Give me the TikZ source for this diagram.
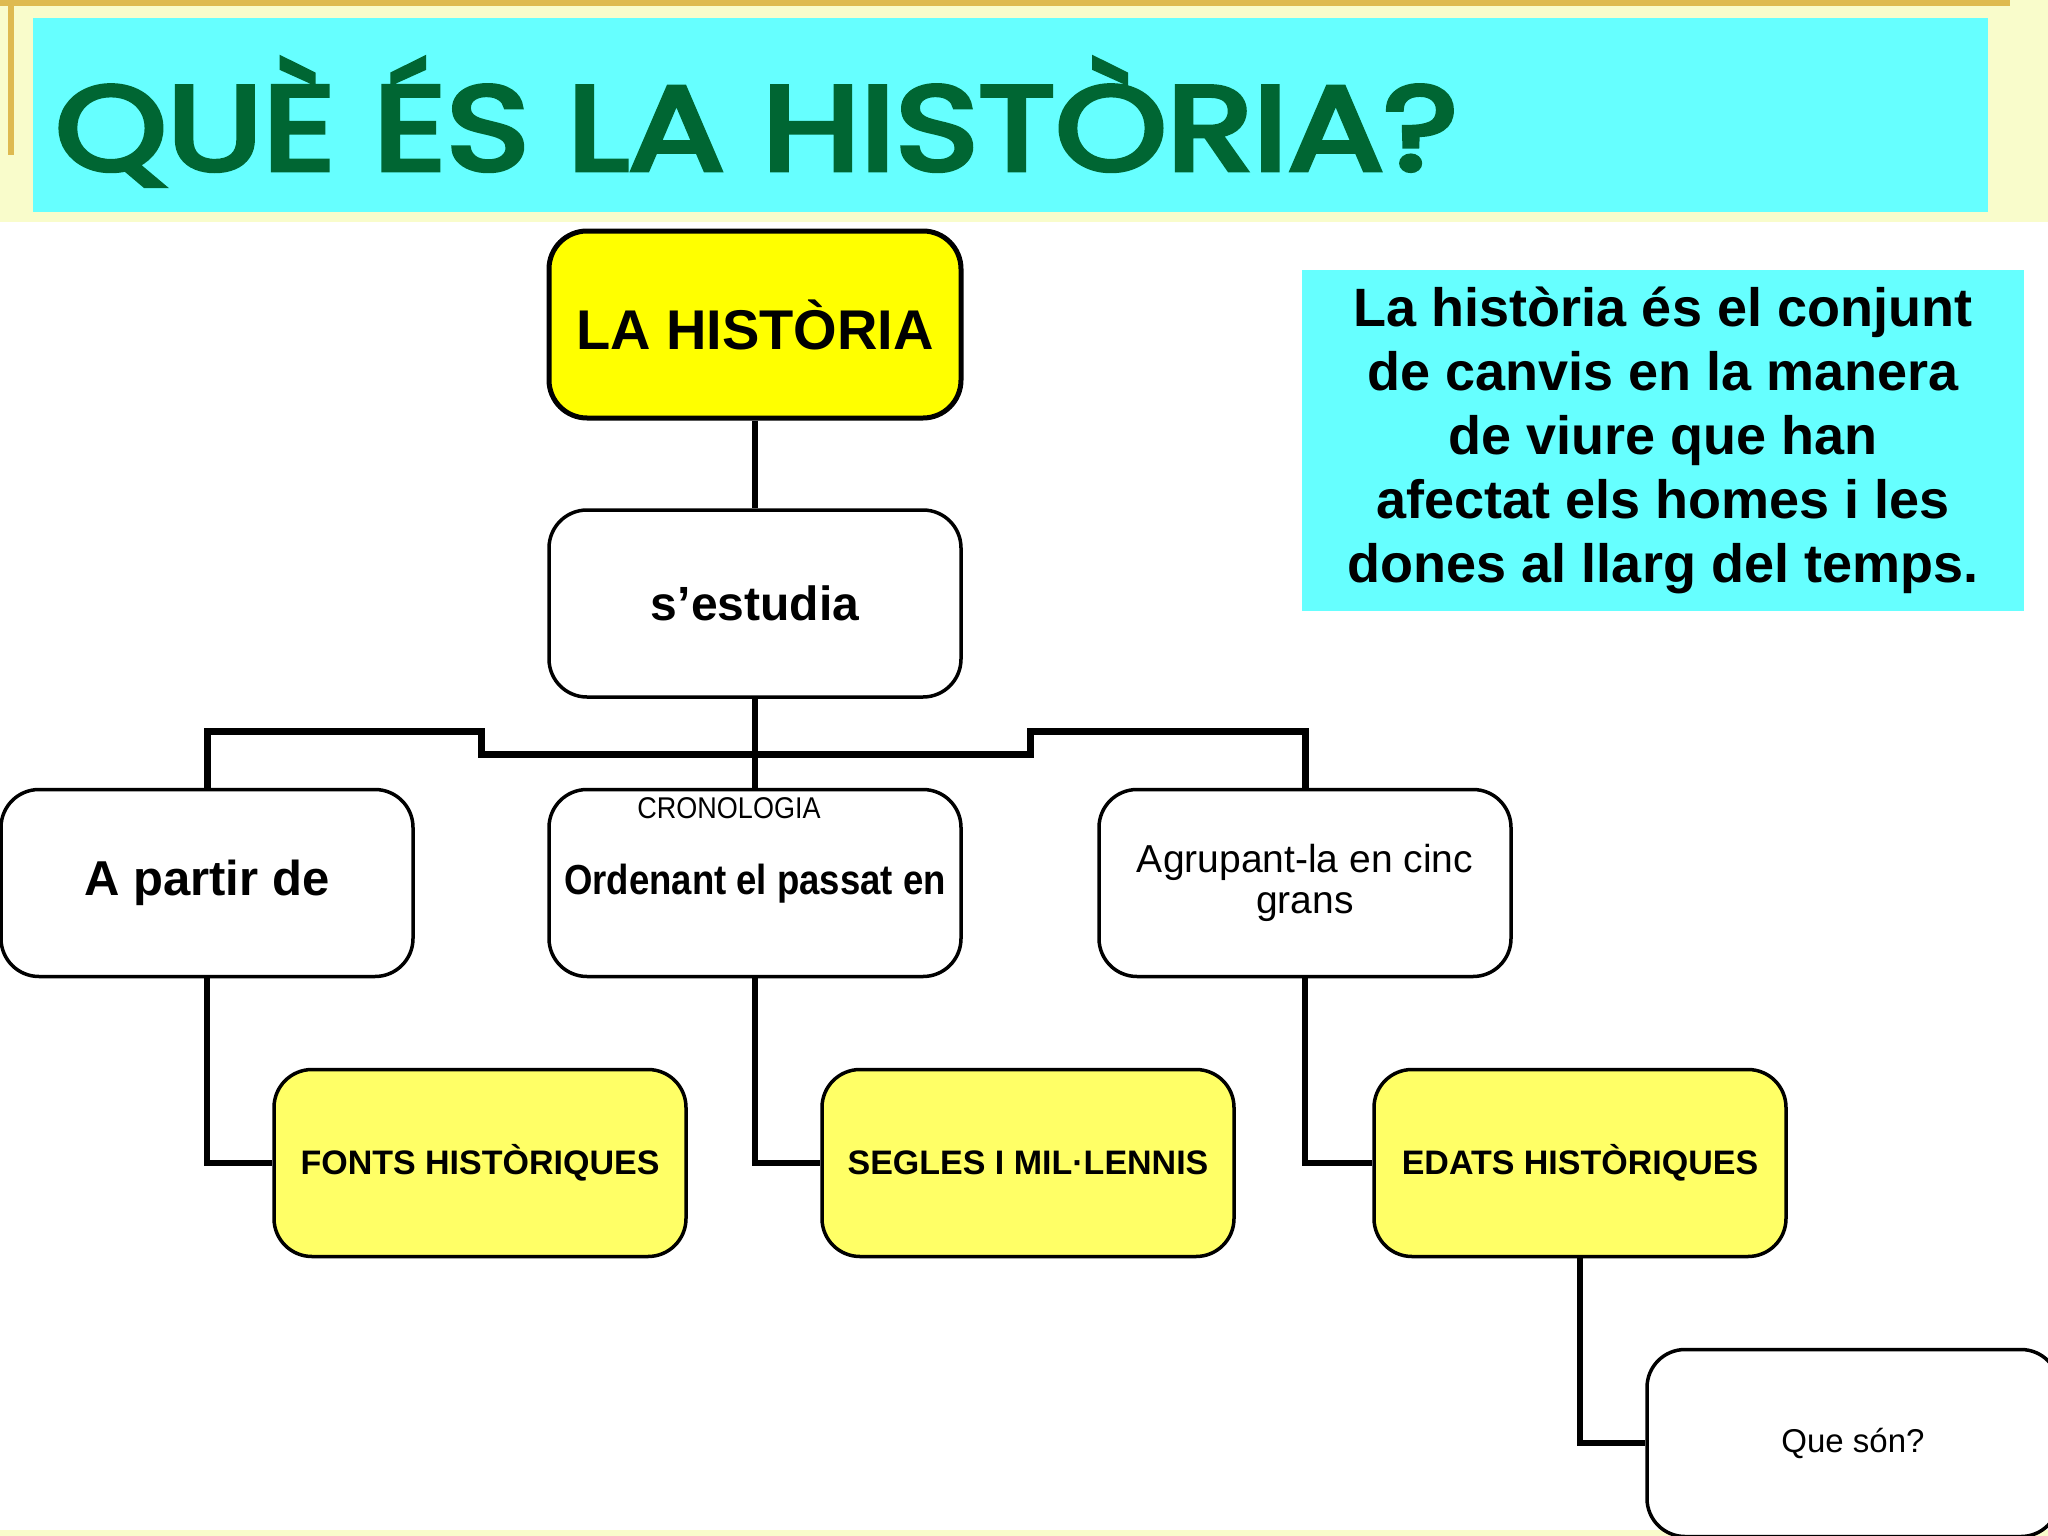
\documentclass[tikz,border=0pt]{standalone}
\usepackage{fontspec}
\usepackage{graphicx}
\setmainfont{Liberation Sans}
\newfontfamily\titlefont{Poppins}[FakeBold=4]
\definecolor{paleyel}{RGB}{249,252,203}
\definecolor{goldline}{RGB}{222,186,80}
\definecolor{cyanbg}{RGB}{102,255,255}
\definecolor{titlegreen}{RGB}{0,102,51}
\definecolor{brightyel}{RGB}{255,255,0}
\definecolor{lightyel}{RGB}{255,255,102}
\begin{document}
\begin{tikzpicture}[x=1pt,y=-1pt,
  box/.style={draw=black, line width=3.5pt, rounded corners=38pt, minimum width=412pt,
    minimum height=187pt, inner sep=0pt, align=center, fill=white},
  yelbox/.style={box, fill=lightyel},
  conn/.style={draw=black, line width=5.5pt},
  bar/.style={draw=black, line width=7pt},
  boldtxt/.style={font=\bfseries}
]
\useasboundingbox (0,0) rectangle (2048,1536);
\fill[white] (0,0) rectangle (2048,1536);
\fill[paleyel] (0,0) rectangle (2048,222);
\fill[paleyel] (0,1530) rectangle (2048,1536);
\fill[goldline] (0,0) rectangle (2010,6);
\fill[goldline] (8,0) rectangle (14,155);
\fill[cyanbg] (33,18) rectangle (1988,212);
\node[anchor=base west, inner sep=0pt, text=titlegreen] (title) at (55,170)
  {\resizebox{1401pt}{111pt}{\titlefont QUÈ ÉS LA HISTÒRIA?}};

% definition box
\node[fill=cyanbg, minimum width=722pt, minimum height=341pt, inner sep=0pt, align=center,
  font=\fontsize{54}{64}\selectfont\bfseries] (def) at (1663,440.5)
  {La història és el conjunt\\de canvis en la manera\\de viure que han\\afectat els homes i les\\dones al llarg del temps.};

% nodes
\node[box, fill=brightyel, line width=5pt, font=\fontsize{56}{60}\selectfont\bfseries] (hist) at (755,324.5) {LA HISTÒRIA};
\node[box, font=\fontsize{48}{54}\selectfont\bfseries] (est) at (755,603.5) {s’estudia};
\node[box, font=\fontsize{49}{54}\selectfont\bfseries] (apartir) at (207,883) {A partir de};
\node[box] (ord) at (755,883) {};
\node[inner sep=0pt, font=\fontsize{42}{48}\selectfont\bfseries] (ordtxt) at (755,884)
  {\scalebox{0.87}[1]{Ordenant el passat en}};
\node[inner sep=0pt, font=\fontsize{30}{34}\selectfont] (crono) at (729,808)
  {\scalebox{0.9}[1]{CRONOLOGIA}};
\node[box, font=\fontsize{39}{41}\selectfont] (agrup) at (1305,883) {Agrupant-la en cinc\\grans};
\node[yelbox, font=\fontsize{34}{40}\selectfont\bfseries] (fonts) at (480,1163) {FONTS HISTÒRIQUES};
\node[yelbox, font=\fontsize{34}{40}\selectfont\bfseries] (segles) at (1028,1163) {SEGLES I MIL·LENNIS};
\node[yelbox, font=\fontsize{34}{40}\selectfont\bfseries] (edats) at (1580,1163) {EDATS HISTÒRIQUES};
\node[box, font=\fontsize{33}{38}\selectfont] (que) at (1853,1443) {Que són?};

% connectors
\coordinate (sL1) at (481,731);
\coordinate (sL2) at (481,754);
\coordinate (sR2) at (1030,754);
\coordinate (sR1) at (1030,731);
\draw[conn] (hist.south) -- (est.north);
\draw[conn] (est.south) -- (ord.north);
\draw[bar] (apartir.north) |- (sL1) -- (sL2) -- (sR2) -- (sR1) -| (agrup.north);
\draw[conn] (apartir.south) |- (fonts.west);
\draw[conn] (ord.south) |- (segles.west);
\draw[conn] (agrup.south) |- (edats.west);
\draw[conn] (edats.south) |- (que.west);
\end{tikzpicture}
\end{document}
